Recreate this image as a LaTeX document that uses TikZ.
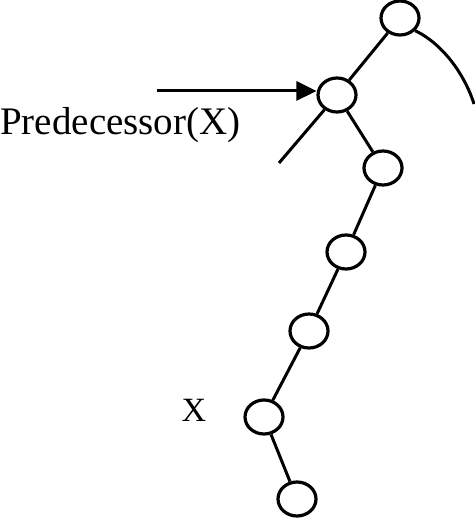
\documentclass[tikz,border=0pt]{standalone}
\usepackage{fontspec}
\setmainfont{Liberation Serif}
\usetikzlibrary{arrows.meta,shapes.geometric}
\begin{document}
\begin{tikzpicture}[x=1pt,y=-1pt,
  vnode/.style={draw,ellipse,line width=3.2pt,minimum width=38pt,minimum height=34pt,inner sep=0pt},
  edge/.style={line width=3pt},
  lbl/.style={inner sep=0pt}]
\useasboundingbox (0,0) rectangle (474,518);
\node[vnode] (n1) at (400,18) {};
\node[vnode] (n2) at (337,95) {};
\node[vnode] (n3) at (383,168) {};
\node[vnode] (n4) at (346,252) {};
\node[vnode] (n5) at (309,331) {};
\node[vnode] (n6) at (264,417) {};
\node[vnode] (n7) at (297,499) {};
\draw[edge] (n1) -- (n2);
\draw[edge] (n2) -- (n3);
\draw[edge] (n3) -- (n4);
\draw[edge] (n4) -- (n5);
\draw[edge] (n5) -- (n6);
\draw[edge] (n6) -- (n7);
\coordinate (f) at (279,163);
\draw[edge] (n2) -- (f);
\coordinate (c) at (474,104);
\draw[edge] (n1.-40) .. controls (445,45) and (466,78) .. (c);
\coordinate (a) at (157,91);
\draw[edge,-{Triangle[length=20pt,width=19pt]}] (a) -- (n2.west |- a);
\node[lbl,anchor=base west,font=\fontsize{39}{40}\selectfont] (p) at (0,135) {Predecessor(X)};
\node[lbl,font=\fontsize{34}{35}\selectfont] (x) at (194,410) {X};
\end{tikzpicture}
\end{document}
